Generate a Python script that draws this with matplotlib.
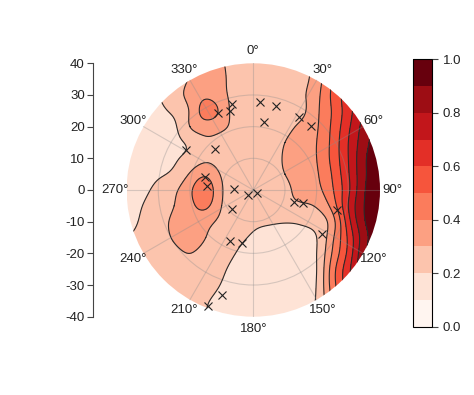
import numpy as np
import matplotlib
matplotlib.use('Agg')
import matplotlib.pyplot as plt
from matplotlib.patches import Circle

plt.rcParams['font.family'] = ['Liberation Sans', 'DejaVu Sans']
plt.rcParams['axes.unicode_minus'] = False

# surface values on a 5-unit grid (rows: y = 40 ... -40)
grid_x = np.arange(-40, 41, 5)
grid_y = np.arange(40, -41, -5)
field = np.array([
    [0.15, 0.18, 0.22, 0.25, 0.31, 0.35, 0.31, 0.26, 0.25, 0.25, 0.26, 0.27, 0.33, 0.48, 0.65, 0.80, 0.95],
    [0.15, 0.18, 0.22, 0.25, 0.31, 0.36, 0.32, 0.26, 0.25, 0.25, 0.26, 0.27, 0.35, 0.50, 0.63, 0.77, 0.90],
    [0.15, 0.17, 0.20, 0.255, 0.33, 0.38, 0.33, 0.26, 0.25, 0.25, 0.26, 0.28, 0.37, 0.52, 0.66, 0.80, 0.92],
    [0.14, 0.16, 0.18, 0.22, 0.31, 0.44, 0.37, 0.25, 0.25, 0.25, 0.26, 0.275, 0.38, 0.51, 0.66, 0.81, 0.94],
    [0.14, 0.15, 0.16, 0.185, 0.30, 0.35, 0.32, 0.27, 0.25, 0.25, 0.27, 0.32, 0.39, 0.52, 0.68, 0.84, 0.96],
    [0.14, 0.15, 0.16, 0.18, 0.22, 0.28, 0.27, 0.26, 0.25, 0.25, 0.30, 0.35, 0.40, 0.53, 0.70, 0.86, 0.98],
    [0.15, 0.16, 0.17, 0.19, 0.23, 0.28, 0.26, 0.25, 0.25, 0.26, 0.31, 0.35, 0.40, 0.53, 0.70, 0.88, 0.99],
    [0.15, 0.17, 0.19, 0.22, 0.31, 0.38, 0.29, 0.26, 0.25, 0.26, 0.30, 0.34, 0.39, 0.51, 0.69, 0.88, 0.99],
    [0.16, 0.185, 0.22, 0.28, 0.38, 0.46, 0.31, 0.26, 0.25, 0.26, 0.28, 0.33, 0.37, 0.49, 0.68, 0.89, 0.99],
    [0.17, 0.20, 0.24, 0.30, 0.37, 0.42, 0.30, 0.26, 0.25, 0.25, 0.27, 0.285, 0.31, 0.44, 0.70, 0.90, 0.99],
    [0.18, 0.21, 0.26, 0.32, 0.36, 0.33, 0.28, 0.25, 0.22, 0.21, 0.205, 0.21, 0.24, 0.36, 0.66, 0.89, 0.99],
    [0.20, 0.22, 0.26, 0.31, 0.34, 0.30, 0.26, 0.22, 0.19, 0.17, 0.17, 0.18, 0.20, 0.38, 0.62, 0.86, 0.98],
    [0.22, 0.23, 0.26, 0.28, 0.30, 0.27, 0.24, 0.195, 0.17, 0.15, 0.15, 0.16, 0.20, 0.41, 0.63, 0.88, 0.97],
    [0.22, 0.24, 0.26, 0.27, 0.27, 0.25, 0.215, 0.17, 0.15, 0.14, 0.14, 0.16, 0.20, 0.45, 0.67, 0.88, 0.96],
    [0.22, 0.24, 0.25, 0.26, 0.25, 0.24, 0.195, 0.16, 0.14, 0.14, 0.14, 0.16, 0.205, 0.45, 0.66, 0.85, 0.94],
    [0.22, 0.24, 0.26, 0.25, 0.24, 0.21, 0.17, 0.15, 0.14, 0.14, 0.15, 0.17, 0.21, 0.42, 0.62, 0.80, 0.90],
    [0.22, 0.24, 0.25, 0.25, 0.23, 0.20, 0.17, 0.15, 0.14, 0.14, 0.15, 0.17, 0.22, 0.40, 0.60, 0.78, 0.90],
])

# observation points (crosses)
obs_x = [-6.6, 2.1, 7.3, -7.3, -11.0, 3.5, 14.4, 18.1, -21.4, -12.1, -15.3, -14.6,
         -6.1, -1.7, 1.1, -6.7, 12.8, 15.7, 26.3, 21.7, -7.3, -3.6, -10.0, -14.3]
obs_y = [27.0, 27.7, 26.5, 24.9, 24.2, 21.6, 23.2, 20.2, 12.6, 12.8, 4.0, 1.3,
         0.2, -1.7, -1.0, -6.0, -3.9, -4.2, -6.3, -14.0, -16.2, -16.7, -33.1, -36.5]

angle_labels = [0, 30, 60, 90, 120, 150, 180, 210, 240, 270, 300, 330]
y_ticks = [-40, -30, -20, -10, 0, 10, 20, 30, 40]
cb_ticks = [0.0, 0.2, 0.4, 0.6, 0.8, 1.0]


def spline_weights(knots, xe):
    """Natural cubic spline weights, so that f(xe) = W @ f(knots)."""
    n = len(knots)
    h = np.diff(knots).astype(float)
    A = np.zeros((n, n))
    B = np.zeros((n, n))
    A[0, 0] = A[-1, -1] = 1
    for i in range(1, n - 1):
        A[i, i - 1], A[i, i], A[i, i + 1] = h[i - 1], 2 * (h[i - 1] + h[i]), h[i]
        B[i, i - 1] = 6 / h[i - 1]
        B[i, i] = -6 / h[i - 1] - 6 / h[i]
        B[i, i + 1] = 6 / h[i]
    M = np.linalg.solve(A, B)
    idx = np.clip(np.searchsorted(knots, xe) - 1, 0, n - 2)
    hh = knots[idx + 1] - knots[idx]
    a = (knots[idx + 1] - xe) / hh
    b = (xe - knots[idx]) / hh
    rows = np.arange(len(xe))
    W = np.zeros((len(xe), n))
    W[rows, idx] += a
    W[rows, idx + 1] += b
    W += ((a ** 3 - a)[:, None] * M[idx] + (b ** 3 - b)[:, None] * M[idx + 1]) * (hh ** 2 / 6)[:, None]
    return W


levels = np.linspace(0, 1, 11)
colors = plt.cm.Reds(np.linspace(0, 1, 10))
R = 40

xs = np.linspace(-R, R, 401)
ys = np.linspace(-R, R, 401)
Z = spline_weights(grid_y[::-1], ys) @ field[::-1] @ spline_weights(grid_x, xs).T
Z = np.clip(Z, 0.001, 0.999)

fig = plt.figure(figsize=(4.74, 3.95), dpi=100)
ax = fig.add_axes([126.6 / 474, (395 - 316.7) / 395, 253.4 / 474, 253.4 / 395])

circ = Circle((0, 0), R, transform=ax.transData, fc='none', ec='none')
ax.add_patch(circ)
cf = ax.contourf(xs, ys, Z, levels=levels, colors=colors)
cl = ax.contour(xs, ys, Z, levels=levels[1:-1], colors='#2b2b2b', linewidths=0.8)
cf.set_clip_path(circ)
cl.set_clip_path(circ)

# polar grid
grid_col = (0.55, 0.55, 0.55, 0.35)
for r in [10, 20, 30]:
    ax.add_patch(Circle((0, 0), r, fill=False, ec=grid_col, lw=0.8))
for a in angle_labels:
    t = np.radians(90 - a)
    ax.plot([0, R * np.cos(t)], [0, R * np.sin(t)], color=grid_col, lw=0.8)
    ax.text(43.8 * np.cos(t), 43.8 * np.sin(t), f'{a}°', ha='center', va='center',
            fontsize=9.5, color='#222222')

ax.plot(obs_x, obs_y, 'x', color='#222222', ms=6, mew=0.8)

ax.set_xlim(-R, R)
ax.set_ylim(-R, R)
for s in ['top', 'right', 'bottom']:
    ax.spines[s].set_visible(False)
ax.spines['left'].set_position(('outward', 24))
ax.spines['left'].set_color('#444444')
ax.set_xticks([])
ax.set_yticks(y_ticks)
ax.tick_params(axis='y', length=4.5, width=0.8, color='#444444', labelsize=9.5,
               labelcolor='#222222', pad=1.5)
ax.patch.set_visible(False)

cax = fig.add_axes([412.7 / 474, (395 - 326.7) / 395, 19.6 / 474, 267.4 / 395])
cb = fig.colorbar(cf, cax=cax, ticks=cb_ticks)
cb.ax.set_yticklabels([f'{t:.1f}' for t in cb_ticks])
cb.outline.set_linewidth(0.8)
cb.ax.tick_params(length=4, width=0.8, color='#444444', labelsize=9.5, labelcolor='#222222')

fig.savefig('out.png', dpi=100)
